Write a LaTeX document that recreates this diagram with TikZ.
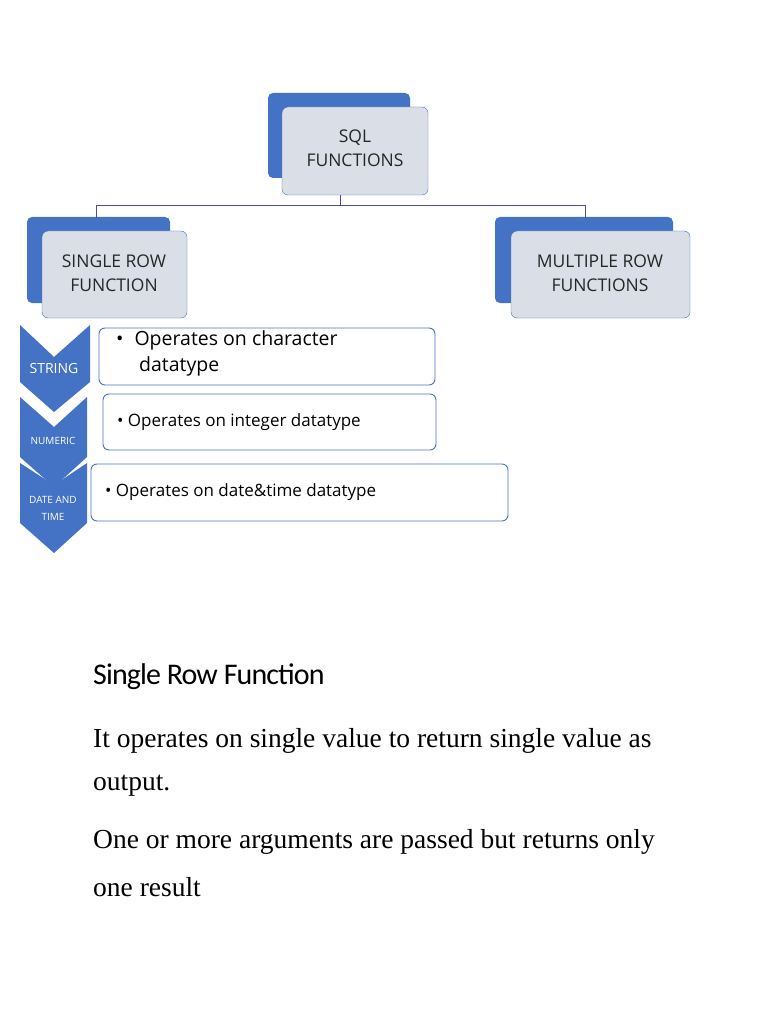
\documentclass[tikz,border=0pt]{standalone}
\usepackage{fontspec}
\setmainfont{Liberation Serif}
\newfontfamily\calfont{Carlito}
\newfontfamily\osfont{Open Sans}
\begin{document}
\begin{tikzpicture}[x=1pt,y=-1pt,
  front/.style={fill=frontc,draw=bl,rounded corners=6pt},
  lbl/.style={font=\osfont\fontsize{17.5}{24}\selectfont,align=center,text=black!85},
  conn/.style={draw=blue!40!black!70,line width=0.8pt},
  tbox/.style={draw=bl,line width=0.9pt,rounded corners=6pt,fill=white},
  ctext/.style={text=white,align=center}]
\definecolor{bl}{RGB}{68,114,196}
\definecolor{frontc}{RGB}{218,222,230}
\useasboundingbox (0,0) rectangle (768,1024);
\fill[white] (0,0) rectangle (768,1024);
% top
\fill[bl,rounded corners=5pt] (268,93) rectangle (410,178);
\draw[front] (282,107) rectangle (428,195);
\node[lbl] (sql) at (355,148) {SQL\\FUNCTIONS};
\fill[bl,rounded corners=5pt] (27,217) rectangle (170,303);
\draw[front] (42,231) rectangle (187,318);
\node[lbl] (srf) at (114,273) {SINGLE ROW\\FUNCTION};
\fill[bl,rounded corners=5pt] (495,217) rectangle (673,303);
\draw[front] (511,231) rectangle (690,318);
\node[lbl] (mrf) at (600,273) {MULTIPLE ROW\\FUNCTIONS};
\coordinate (j) at (340,205);
\coordinate (jl) at (96,205);
\coordinate (jr) at (585,205);
\draw[conn] (340,195) -- (j);
\draw[conn] (96,218) -- (jl) -- (jr) -- (585,218);
% chevrons
\fill[bl] (20,325) -- (54,357) -- (90,325) -- (90,382) -- (54,412) -- (20,382) -- cycle;
\fill[bl] (20,397) -- (54,427) -- (87,397) -- (87,457) -- (54,487) -- (20,457) -- cycle;
\fill[bl] (20,463) -- (54,485) -- (87,463) -- (87,523) -- (54,553) -- (20,523) -- cycle;
\node[ctext,font=\osfont\fontsize{14}{17}\selectfont] (c1) at (54,368) {STRING};
\node[ctext,font=\osfont\fontsize{10}{13}\selectfont] (c2) at (53,441) {NUMERIC};
\node[ctext,font=\osfont\fontsize{10}{17}\selectfont] (c3) at (53,508) {DATE AND\\TIME};
% text boxes
\draw[tbox] (99,328) rectangle (435,385);
\node[anchor=north west,font=\osfont\fontsize{19.5}{26}\selectfont,align=left,inner sep=0] (t1) at (116,330) {\textbullet\hspace{11pt}Operates on character\\\hspace{23pt}datatype};
\draw[tbox] (103,394) rectangle (436,450);
\node[anchor=west,font=\osfont\fontsize{17}{22}\selectfont,inner sep=0] (t2) at (117,422) {\textbullet\ Operates on integer datatype};
\draw[tbox] (91,464) rectangle (508,521);
\node[anchor=west,font=\osfont\fontsize{17}{22}\selectfont,inner sep=0] (t3) at (105,492) {\textbullet\ Operates on date\&time datatype};
% text
\node[anchor=west,inner sep=0,font=\calfont\fontsize{30}{32}\selectfont] (h) at (93,677) {\addfontfeatures{LetterSpace=-3}Single Row Function};
\node[anchor=west,inner sep=0,font=\fontsize{27.5}{30}\selectfont] (p1) at (93,741) {It operates on single value to return single value as};
\node[anchor=west,inner sep=0,font=\fontsize{27.5}{30}\selectfont] (p2) at (93,786) {output.};
\node[anchor=west,inner sep=0,font=\fontsize{27.5}{30}\selectfont] (p3) at (93,842) {One or more arguments are passed but returns only};
\node[anchor=west,inner sep=0,font=\fontsize{27.5}{30}\selectfont] (p4) at (93,887) {one result};
\end{tikzpicture}
\end{document}
